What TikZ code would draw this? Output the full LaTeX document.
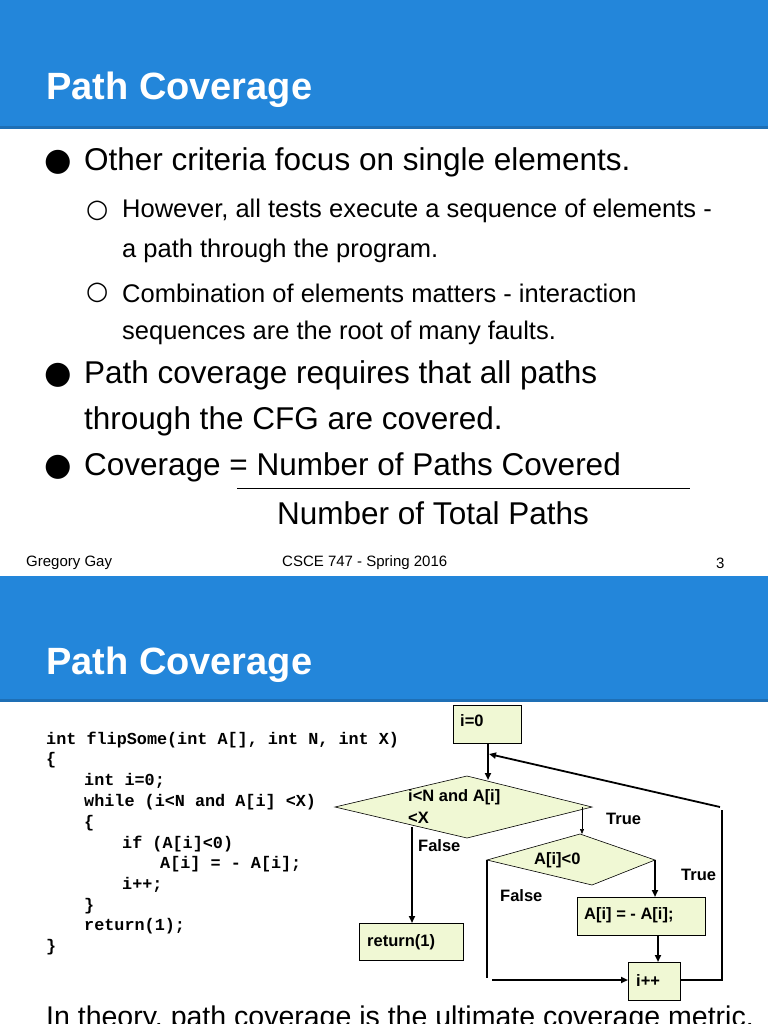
\documentclass[tikz,border=0pt]{standalone}
\usepackage{fontspec}
\setmainfont{Liberation Sans}
\newfontfamily\codefont{Liberation Mono}
\newfontfamily\symfont{DejaVu Sans}
\usetikzlibrary{arrows.meta}
\definecolor{hdr}{HTML}{2386DA}
\definecolor{hdrd}{HTML}{1E6FB5}
\definecolor{boxf}{HTML}{F0F8D4}
\tikzset{
  x=1pt,y=-1pt,
  txt/.style={anchor=west,inner sep=0pt},
  big/.style={txt,font=\fontsize{31.5}{34}\selectfont},
  med/.style={txt,font=\fontsize{25.5}{28}\selectfont},
  foot/.style={txt,font=\fontsize{15}{17}\selectfont},
  code/.style={txt,font=\codefont\bfseries\fontsize{16.8}{18}\selectfont},
  lbl/.style={txt,font=\bfseries\fontsize{16.5}{18}\selectfont},
  fbox/.style={draw=black,fill=boxf,line width=0.6pt},
  conn/.style={line width=1.8pt,-{Triangle[length=7pt,width=6pt]}},
  thin/.style={line width=0.6pt,-{Triangle[length=5pt,width=4pt]}},
}
\begin{document}
\begin{tikzpicture}
\useasboundingbox (0,0) rectangle (768,1024);
\fill[white] (0,0) rectangle (768,1024);
% headers
\fill[hdr] (0,0) rectangle (768,127);
\fill[hdrd] (0,126) rectangle (768,129);
\node[txt,text=white,font=\bfseries\fontsize{38}{40}\selectfont] (t1) at (46,90) {Path Coverage};
\fill[hdr] (0,576) rectangle (768,700);
\fill[hdrd] (0,699) rectangle (768,702);
\node[txt,text=white,font=\bfseries\fontsize{38}{40}\selectfont] (t2) at (46,665) {Path Coverage};
% bullets slide 1
\node[big] (b1s) at (44,162) {\symfont ●};
\node[big] (b1) at (84,162) {Other criteria focus on single elements.};
\node[med] (s1s) at (86,211) {\symfont ○};
\node[med] (s1) at (122,211) {However, all tests execute a sequence of elements -};
\node[med] (s1b) at (122,251) {a path through the program.};
\node[med] (s2s) at (86,293) {\symfont ○};
\node[med] (s2) at (122,293) {Combination of elements matters - interaction};
\node[med] (s2b) at (122,333) {sequences are the root of many faults.};
\node[big] (b2s) at (44,375) {\symfont ●};
\node[big] (b2) at (84,375) {Path coverage requires that all paths};
\node[big] (b2b) at (84,421) {through the CFG are covered.};
\node[big] (b3s) at (44,467) {\symfont ●};
\node[big] (b3) at (84,467) {Coverage = Number of Paths Covered};
\draw[line width=1pt] (237,488) -- (690,488);
\node[big] (b3b) at (277,513) {Number of Total Paths};
\node[foot] (f1) at (26,563) {Gregory Gay};
\node[foot] (f2) at (282,563) {CSCE 747 - Spring 2016};
\node[foot] (f3) at (716,563) {3};
% code
\node[code] (c1) at (46,740) {int flipSome(int A[], int N, int X)};
\node[code] (c2) at (46,760) {\{};
\node[code] (c3) at (84,781) {int i=0;};
\node[code] (c4) at (84,802) {while (i<N and A[i] <X)};
\node[code] (c5) at (84,823) {\{};
\node[code] (c6) at (122,844) {if (A[i]<0)};
\node[code] (c7) at (160,864) {A[i] = - A[i];};
\node[code] (c8) at (122,885) {i++;};
\node[code] (c9) at (84,906) {\}};
\node[code] (c10) at (84,926) {return(1);};
\node[code] (c11) at (46,947) {\}};
% flowchart
\draw[fbox] (453,705) rectangle (521,743);
\node[lbl] (i0) at (460,721) {i=0};
\coordinate (i0b) at (488,743);
\draw[fbox] (335,807) -- (467,776) -- (592,807) -- (467,838) -- cycle;
\node[lbl] (d1) at (408,797) {i<N and A[i]};
\node[lbl] (d1b) at (408,818) {<X};
\coordinate (d1t) at (488,780);
\draw[conn] (i0b) -- (d1t);
\draw[fbox] (487,860) -- (580,834) -- (655,860) -- (592,885) -- cycle;
\node[lbl] (d2) at (534,860) {A[i]<0};
\coordinate (d1r) at (582,807);
\coordinate (d2t) at (582,834);
\draw[thin] (d1r) -- (d2t);
\node[lbl] (tr1) at (606,819) {True};
\draw[fbox] (577,897) rectangle (705,935);
\node[lbl] (asg) at (584,915) {A[i] = - A[i];};
\draw[conn] (655,860) -- (655,897);
\node[lbl] (tr2) at (681,875) {True};
\draw[fbox] (359,923) rectangle (463,960);
\node[lbl] (ret) at (367,942) {return(1)};
\draw[conn] (412,827) -- (412,923);
\node[lbl] (fa1) at (418,846) {False};
\node[lbl] (fa2) at (500,896) {False};
\draw[fbox] (628,962) rectangle (680,1000);
\node[lbl] (ipp) at (636,981) {i++};
\draw[conn] (658,935) -- (658,962);
\draw[line width=1.8pt] (487,860) -- (487,978);
\draw[conn] (492,980) -- (628,980);
\draw[line width=1.8pt] (680,980) -- (722,980) -- (722,810);
\draw[conn] (720,807) -- (489,754);
% bottom text
\node[txt,font=\fontsize{28.5}{30}\selectfont] (bt) at (46,1019) {In theory, path coverage is the ultimate coverage metric.};
\end{tikzpicture}
\end{document}
